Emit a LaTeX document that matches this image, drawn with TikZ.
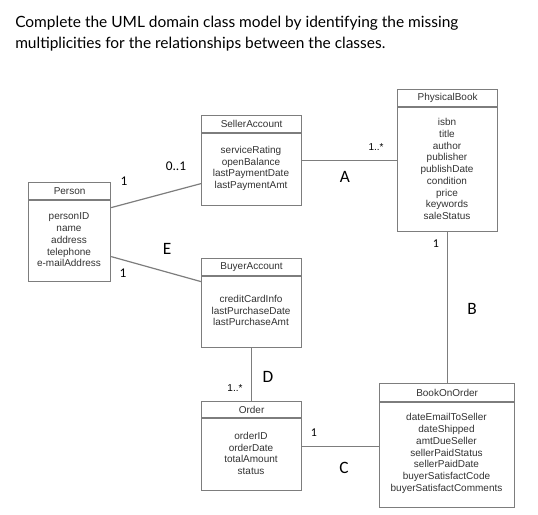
\documentclass[tikz,border=0pt]{standalone}
\usepackage{fontspec}
\setmainfont{Liberation Sans}
\newfontfamily\latofont{Lato}
\newfontfamily\carlito{Carlito}
\definecolor{linegray}{RGB}{125,125,125}
\definecolor{txtgray}{RGB}{50,50,50}

\begin{document}
\begin{tikzpicture}[x=0.75pt,y=-0.75pt]
  \def\px{0.75pt}
  \def\hh{18}
  \tikzstyle cls=[draw=linegray,line width=0.9pt,inner sep=0pt,anchor=north west];
  \tikzstyle hd=[font=\fontsize{7.5}{8.8}\selectfont,text=txtgray,inner sep=0pt];
  \tikzstyle attr=[font=\fontsize{7.5}{8.8}\selectfont,text=txtgray,align=center,inner sep=0pt];
  \tikzstyle sep=[draw=linegray,line width=0.9pt];
  \tikzstyle assoc=[draw=linegray,line width=0.9pt];
  \tikzstyle mult=[font=\carlito\fontsize{10}{10}\selectfont,inner sep=0pt];
  \tikzstyle smult=[font=\fontsize{7.5}{8}\selectfont,inner sep=0pt];
  \tikzstyle lbl=[font=\carlito\fontsize{13}{13}\selectfont,inner sep=0pt];

  \useasboundingbox (0,0) rectangle (538,514);

  % question
  \node[anchor=base west,inner sep=0pt,font=\latofont\fontsize{11.6}{16}\selectfont] (q1) at (15,27)
    {Complete the UML domain class model by identifying the missing};
  \node[anchor=base west,inner sep=0pt,font=\latofont\fontsize{11.6}{16}\selectfont] (q2) at (15,48)
    {multiplicities for the relationships between the classes.};

  % class boxes
  \node[cls,minimum width=82*\px,minimum height=99*\px] (person) at (28,182) {};
  \node[cls,minimum width=100*\px,minimum height=90*\px] (seller) at (201,115) {};
  \node[cls,minimum width=100*\px,minimum height=89*\px] (buyer) at (201,258) {};
  \node[cls,minimum width=100*\px,minimum height=89*\px] (order) at (201,401) {};
  \node[cls,minimum width=100*\px,minimum height=142*\px] (book) at (397,89) {};
  \node[cls,minimum width=135*\px,minimum height=124*\px] (boo) at (379,383) {};

  % header lines
  \draw[sep] ([yshift=-\hh*\px]person.north west) -- ([yshift=-\hh*\px]person.north east);
  \draw[sep] ([yshift=-\hh*\px]seller.north west) -- ([yshift=-\hh*\px]seller.north east);
  \draw[sep] ([yshift=-\hh*\px]buyer.north west) -- ([yshift=-\hh*\px]buyer.north east);
  \draw[sep] ([yshift=-17*\px]order.north west) -- ([yshift=-17*\px]order.north east);
  \draw[sep] ([yshift=-\hh*\px]book.north west) -- ([yshift=-\hh*\px]book.north east);
  \draw[sep] ([yshift=-19*\px]boo.north west) -- ([yshift=-19*\px]boo.north east);

  % class names
  \node[hd] (person-name) at ([yshift=-9*\px]person.north) {Person};
  \node[hd] (seller-name) at ([yshift=-9*\px]seller.north) {SellerAccount};
  \node[hd] (buyer-name) at ([yshift=-9*\px]buyer.north) {BuyerAccount};
  \node[hd] (order-name) at ([yshift=-8.5*\px]order.north) {Order};
  \node[hd] (book-name) at ([yshift=-9*\px]book.north) {PhysicalBook};
  \node[hd] (boo-name) at ([yshift=-9.5*\px]boo.north) {BookOnOrder};

  % attributes
  \node[attr] (person-attr) at (69,240) {personID\\name\\address\\telephone\\e-mailAddress};
  \node[attr] (seller-attr) at (251,168.5) {serviceRating\\openBalance\\lastPaymentDate\\lastPaymentAmt};
  \node[attr] (buyer-attr) at (251,310.5) {creditCardInfo\\lastPurchaseDate\\lastPurchaseAmt};
  \node[attr] (order-attr) at (251,453.5) {orderID\\orderDate\\totalAmount\\status};
  \node[attr] (book-attr) at (447,169) {isbn\\title\\author\\publisher\\publishDate\\condition\\price\\keywords\\saleStatus};
  \node[attr] (boo-attr) at (446.5,453.5) {dateEmailToSeller\\dateShipped\\amtDueSeller\\sellerPaidStatus\\sellerPaidDate\\buyerSatisfactCode\\buyerSatisfactComments};

  % associations
  \draw[assoc] ([yshift=24.5*\px]person.east) -- ([yshift=-23*\px]seller.west);
  \draw[assoc] ([yshift=-24.5*\px]person.east) -- ([yshift=21.5*\px]buyer.west);
  \draw[assoc] (seller.east) -- (seller.east -| book.west);
  \draw[assoc] (book.south -| boo.north) -- (boo.north);
  \draw[assoc] (buyer.south) -- (order.north);
  \draw[assoc] (order.east) -- (order.east -| boo.west);

  % multiplicities
  \node[mult] (m-person-s) at (124,181) {1};
  \node[mult] (m-seller) at (176,166) {0..1};
  \node[mult] (m-person-b) at (123,273) {1};
  \node[smult] (m-book-a) at (376,147) {1..*};
  \node[mult,font=\carlito\fontsize{9}{9}\selectfont] (m-book-b) at (436,244) {1};
  \node[smult] (m-order) at (235,388) {1..*};
  \node[mult,font=\carlito\fontsize{9}{9}\selectfont] (m-order-c) at (314,433) {1};

  % letters
  \node[lbl] (la) at (345,177) {A};
  \node[lbl] (lb) at (472,309) {B};
  \node[lbl] (lc) at (344,468) {C};
  \node[lbl] (ld) at (268,377) {D};
  \node[lbl] (le) at (167,249) {E};
\end{tikzpicture}
\end{document}
